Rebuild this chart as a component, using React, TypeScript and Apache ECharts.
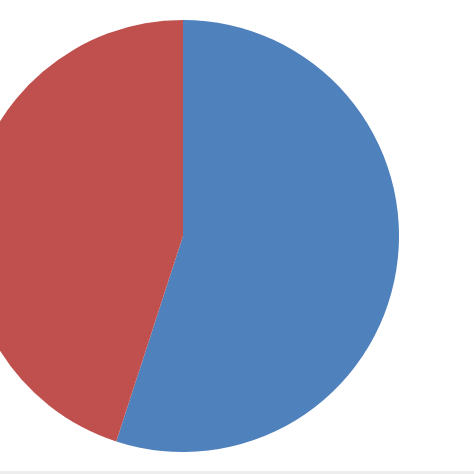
import { useEffect, useRef } from 'react'
import * as echarts from 'echarts'

const categories = ['A', 'B']
const values = [55, 45]
const colors = ['#4F81BD', '#C0504D']

function App() {
  const chartRef = useRef<HTMLDivElement>(null)

  useEffect(() => {
    if (!chartRef.current) return
    const chart = echarts.init(chartRef.current, undefined, { renderer: 'svg' })

    const option: echarts.EChartsOption = {
      animation: false,
      backgroundColor: '#ffffff',
      graphic: [
        {
          type: 'rect',
          shape: { x: 0, y: 471, width: 474, height: 3 },
          style: { fill: '#ededed' },
          silent: true,
        },
      ],
      series: [
        {
          type: 'pie',
          center: [183, 236],
          radius: 216,
          startAngle: 90,
          clockwise: true,
          label: { show: false },
          labelLine: { show: false },
          itemStyle: { borderWidth: 0 },
          data: categories.map((name, i) => ({
            name,
            value: values[i],
            itemStyle: { color: colors[i] },
          })),
        },
      ],
    }

    chart.setOption(option)

    return () => {
      chart.dispose()
    }
  }, [])

  return (
    <div
      ref={chartRef}
      style={{ position: 'absolute', left: 0, top: 0, width: 474, height: 474 }}
    />
  )
}

export default App
